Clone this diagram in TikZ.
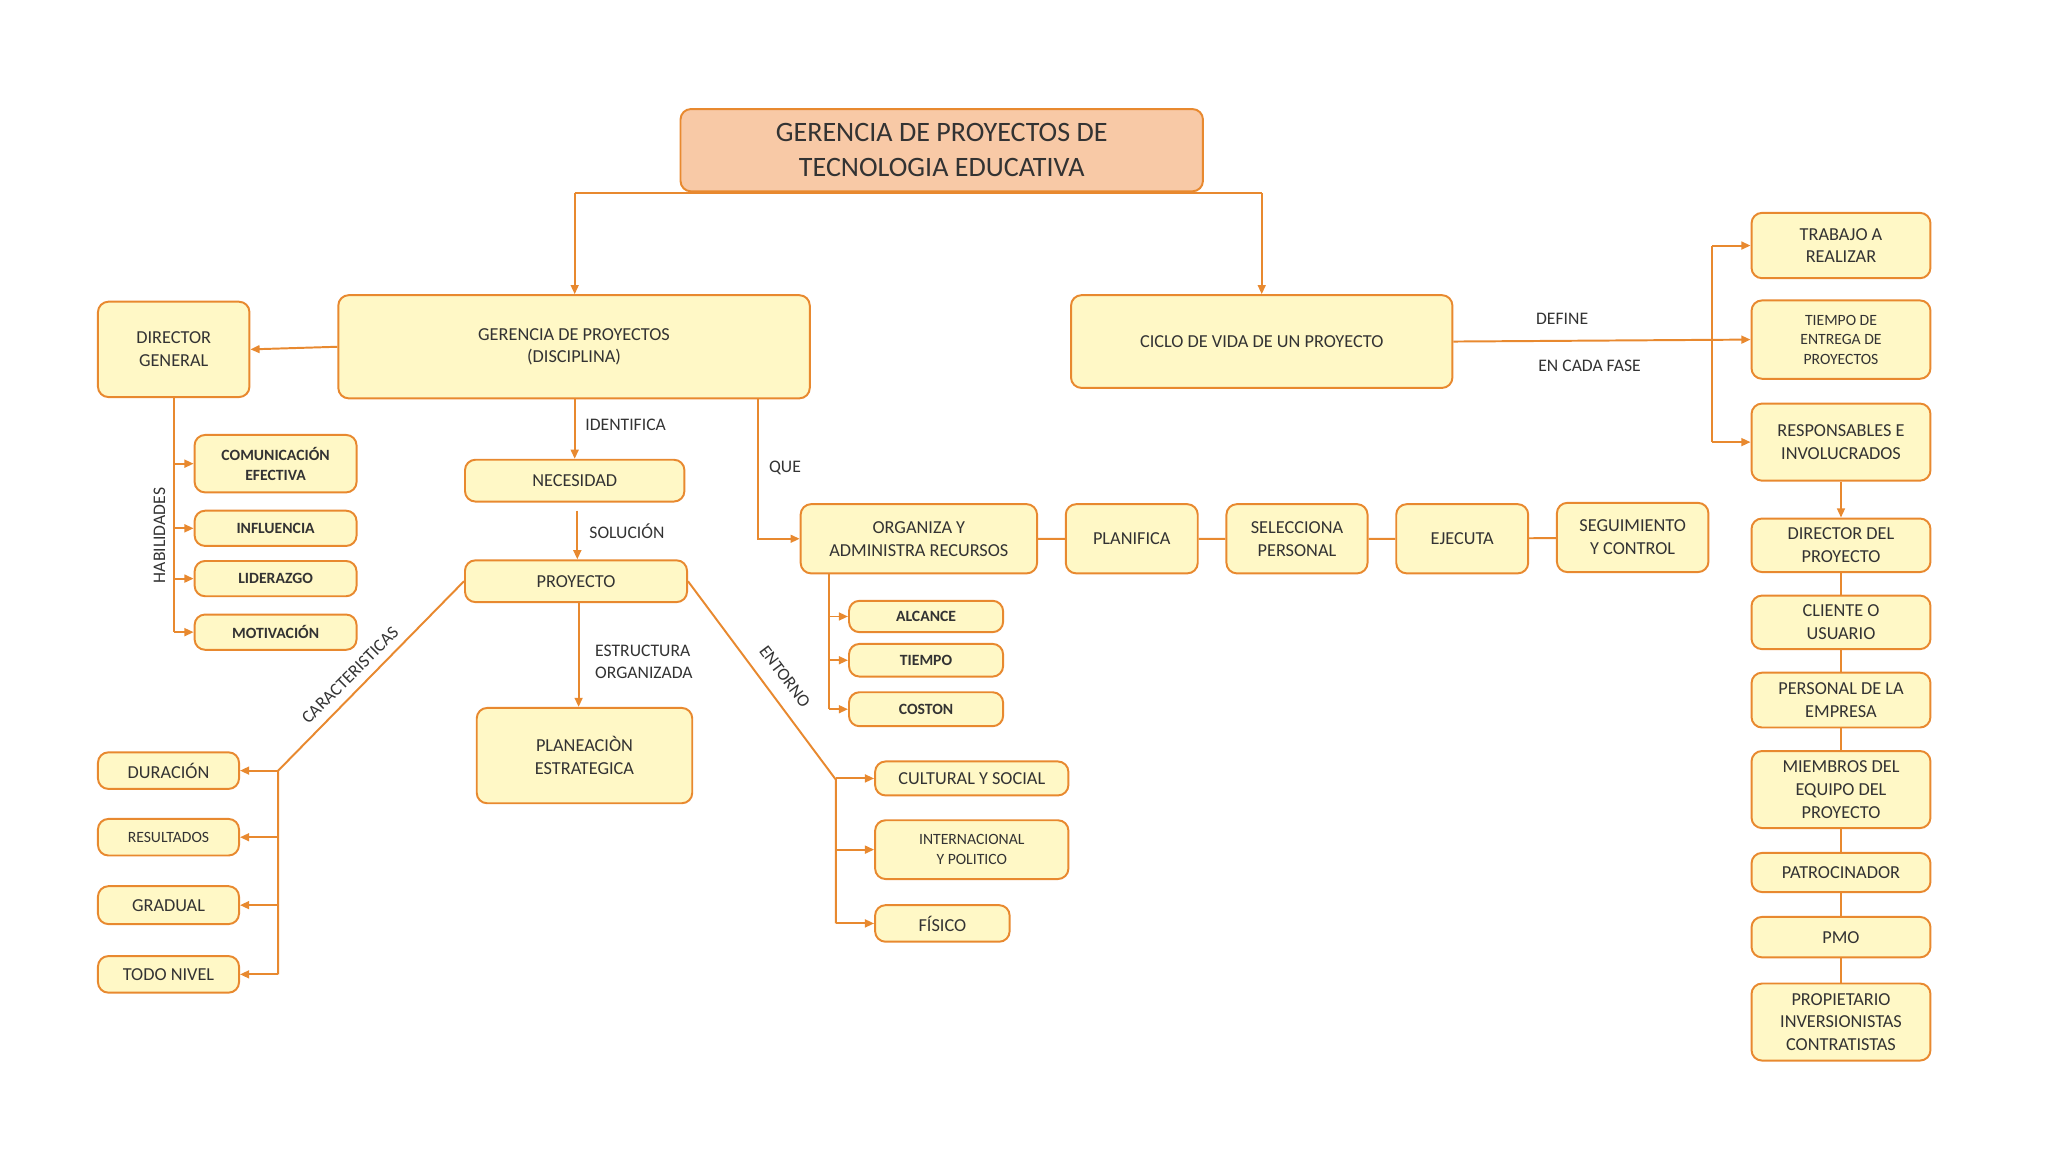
\documentclass[tikz,border=0pt]{standalone}
\usepackage{fontspec}
\setmainfont{Carlito}
\usetikzlibrary{arrows.meta}
\definecolor{bord}{HTML}{E8892F}
\definecolor{fillc}{HTML}{FFF8C6}
\definecolor{titc}{HTML}{F8C9A6}
\definecolor{txt}{HTML}{333333}
\tikzset{
 bx/.style={draw=bord,line width=1.5pt,fill=fillc,rounded corners=8pt,align=center,text=txt,font=\fontsize{14}{17.5}\selectfont,inner sep=2pt},
 sb/.style={bx,font=\bfseries\fontsize{12}{15.5}\selectfont},
 tb/.style={bx,font=\fontsize{12}{15}\selectfont},
 ln/.style={draw=bord,line width=1.5pt},
 ar/.style={ln,-{Triangle[length=7pt,width=6pt]}},
 lb/.style={text=txt,font=\fontsize{13.5}{17}\selectfont,align=left}
}
\newcommand\BX[7]{\node[#1,minimum width=#5pt,minimum height=#6pt] (#2) at (#3,#4) {#7};}
\begin{document}
\begin{tikzpicture}[x=1pt,y=-1pt]
\useasboundingbox (0,0) rectangle (1568,882);
\node[bx,fill=titc,minimum width=400pt,minimum height=63pt,font=\fontsize{21.5}{27}\selectfont] (title) at (721,115) {GERENCIA DE PROYECTOS DE\\TECNOLOGIA EDUCATIVA};
\BX{bx}{gp}{439.5}{265.5}{361}{79}{GERENCIA DE PROYECTOS\\(DISCIPLINA)}
\BX{bx}{dg}{133}{267.5}{116}{73}{DIRECTOR\\GENERAL}
\BX{bx}{ciclo}{966}{261.5}{292}{71}{CICLO DE VIDA DE UN PROYECTO}
\BX{sb}{com}{211}{355}{124}{44}{COMUNICACIÓN\\EFECTIVA}
\BX{sb}{inf}{211}{404.5}{124}{27}{INFLUENCIA}
\BX{sb}{lid}{211}{443}{124}{27}{LIDERAZGO}
\BX{sb}{mot}{211}{484}{124}{27}{MOTIVACIÓN}
\BX{bx}{nec}{440}{368}{168}{32}{NECESIDAD}
\BX{bx}{proy}{441}{445}{170}{32}{PROYECTO}
\BX{bx}{plan}{447.5}{578.5}{165}{73}{PLANEACIÒN\\ESTRATEGICA}
\BX{bx}{dur}{129}{590}{108}{28}{DURACIÓN}
\BX{tb}{res}{129}{641}{108}{28}{RESULTADOS}
\BX{bx}{grad}{129}{693}{108}{29}{GRADUAL}
\BX{bx}{todo}{129}{746}{108}{28}{TODO NIVEL}
\BX{bx}{org}{703.5}{412.5}{181}{53}{ORGANIZA Y\\ADMINISTRA RECURSOS}
\BX{bx}{plani}{866.5}{412.5}{101}{53}{PLANIFICA}
\BX{bx}{sel}{993}{412.5}{108}{53}{SELECCIONA\\PERSONAL}
\BX{bx}{ejec}{1119.5}{412.5}{101}{53}{EJECUTA}
\BX{bx}{seg}{1250}{411.5}{116}{53}{SEGUIMIENTO\\Y CONTROL}
\BX{sb}{alc}{709}{472}{118}{24}{ALCANCE}
\BX{sb}{tiem}{709}{505.5}{118}{25}{TIEMPO}
\BX{sb}{cost}{709}{543}{118}{26}{COSTON}
\BX{bx}{cult}{744}{596}{148}{26}{CULTURAL Y SOCIAL}
\BX{tb}{intl}{744}{650.5}{148}{45}{INTERNACIONAL\\Y POLITICO}
\BX{bx}{fis}{721.5}{707}{103}{28}{FÍSICO}
\BX{bx}{trab}{1409.5}{188}{137}{50}{TRABAJO A\\REALIZAR}
\BX{tb}{tiempo}{1409.5}{260}{137}{60}{TIEMPO DE\\ENTREGA DE\\PROYECTOS}
\BX{bx}{resp}{1409.5}{338.5}{137}{59}{RESPONSABLES E\\INVOLUCRADOS}
\BX{bx}{dirp}{1409.5}{417.5}{137}{41}{DIRECTOR DEL\\PROYECTO}
\BX{bx}{cli}{1409.5}{476.5}{137}{41}{CLIENTE O\\USUARIO}
\BX{bx}{pers}{1409.5}{536}{137}{42}{PERSONAL DE LA\\EMPRESA}
\BX{bx}{miem}{1409.5}{604.5}{137}{59}{MIEMBROS DEL\\EQUIPO DEL\\PROYECTO}
\BX{bx}{patr}{1409.5}{668}{137}{30}{PATROCINADOR}
\BX{bx}{pmo}{1409.5}{717.5}{137}{31}{PMO}
\BX{bx}{prop}{1409.5}{782.5}{137}{59}{PROPIETARIO\\INVERSIONISTAS\\CONTRATISTAS}
% title connectors
\coordinate (tl) at (440,148); \coordinate (tr) at (966,148);
\draw[ln] (tl) -- (tr);
\draw[ar] (tl) -- (gp.north -| tl);
\draw[ar] (tr) -- (ciclo.north -| tr);
\draw[ar] (gp.west) -- (dg.east);
% habilidades
\coordinate (hb) at (133,484);
\draw[ln] (dg.south) -- (hb);
\foreach \n in {com,inf,lid,mot} \draw[ar] (\n.west -| hb) -- (\n.west);
\node[lb,rotate=90] (hab) at (122,410) {HABILIDADES};
% identifica
\coordinate (x1) at (440,0); \coordinate (x2) at (442,391); \coordinate (x3) at (443,0);
\draw[ar] (gp.south -| x1) -- (nec.north -| x1);
\node[lb] (l1) at (479,325) {IDENTIFICA};
\draw[ar] (x2) -- (proy.north -| x2);
\node[lb] (l2) at (480,407) {SOLUCIÓN};
\draw[ar] (proy.south -| x3) -- (plan.north -| x3);
\node[lb] (l3) at (493,507) {ESTRUCTURA\\ORGANIZADA};
% que
\coordinate (q1) at (580,305);
\draw[ar] (q1) |- (org.west);
\node[lb] (l4) at (601,358) {QUE};
% caracteristicas
\coordinate (c1) at (213,590); \coordinate (c2) at (213,746);
\draw[ln] (proy.west) -- (c1) -- (c2);
\foreach \n in {dur,res,grad,todo} \draw[ar] (\n.east -| c1) -- (\n.east);
\node[lb,rotate=45,inner sep=0pt] (l5) at (268,517) {CARACTERISTICAS};
% entorno
\coordinate (e1) at (640,597); \coordinate (e2) at (640,707);
\draw[ln] (proy.east) -- (e1) -- (e2);
\foreach \n in {cult,intl,fis} \draw[ar] (\n.west -| e1) -- (\n.west);
\node[lb,rotate=-53,inner sep=0pt] (l6) at (601,518) {ENTORNO};
% org subs
\coordinate (o1) at (635,543);
\draw[ln] (org.south -| o1) -- (o1);
\foreach \n in {alc,tiem,cost} \draw[ar] (\n.west -| o1) -- (\n.west);
\draw[ln] (org) -- (plani) (plani) -- (sel) (sel) -- (ejec) (ejec) -- (seg);
% ciclo
\draw[ar] (ciclo.east) -- (tiempo.west);
\node[lb] (l7) at (1196,244) {DEFINE};
\node[lb] (l8) at (1217,280) {EN CADA FASE};
\coordinate (d1) at (1311,188); \coordinate (d2) at (1311,338.5);
\draw[ln] (d1) -- (d2);
\draw[ar] (d1) -- (trab.west);
\draw[ar] (d2) -- (resp.west);
\draw[ar] (resp) -- (dirp);
\draw[ln] (dirp) -- (cli) (cli) -- (pers) (pers) -- (miem) (miem) -- (patr) (patr) -- (pmo) (pmo) -- (prop);
\end{tikzpicture}
\end{document}
